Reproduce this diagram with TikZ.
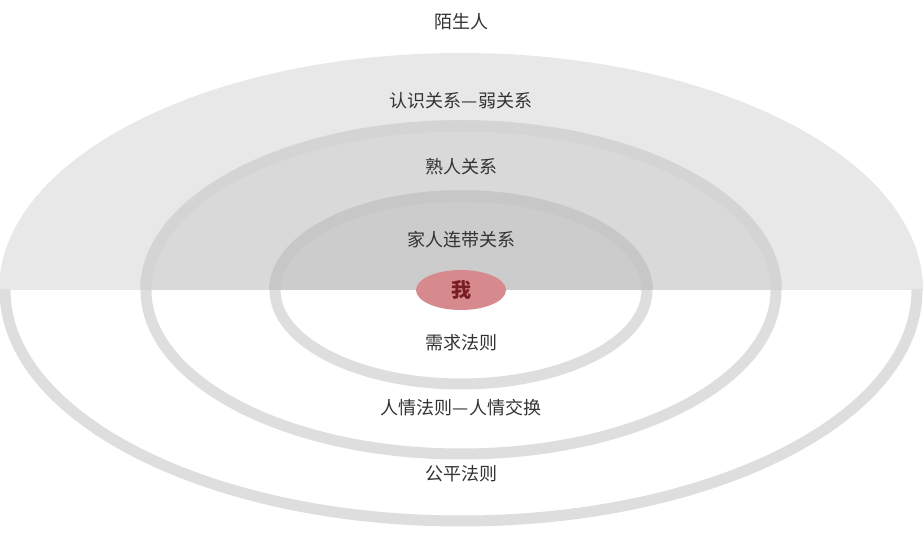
\documentclass[tikz,border=0pt]{standalone}
\usetikzlibrary{shapes.geometric}
\usepackage{fontspec}
\setmainfont{Noto Sans CJK SC}
\begin{document}
\begin{tikzpicture}[x=1pt,y=-1pt,
  lbl/.style={font=\fontsize{18}{20}\selectfont,text=black!80},
  ring/.style={draw=black!13,line width=11pt}]
\useasboundingbox (0,0) rectangle (924,534);
\fill[white] (0,0) rectangle (924,534);
\begin{scope}
\clip (0,0) rectangle (924,290);
\fill[black!9] (461,290) ellipse [x radius=462,y radius=237];
\fill[black!15] (461,290) ellipse [x radius=321,y radius=170];
\fill[black!20] (461,290) ellipse [x radius=192,y radius=100];
\end{scope}
\begin{scope}
\clip (0,290) rectangle (924,534);
\draw[ring] (461,290) ellipse [x radius=456,y radius=231];
\draw[ring] (461,290) ellipse [x radius=315,y radius=164];
\draw[ring] (461,290) ellipse [x radius=186,y radius=94];
\end{scope}
\begin{scope}
\clip (0,0) rectangle (924,290);
\draw[draw=black!17,line width=11pt] (461,290) ellipse [x radius=315,y radius=164];
\draw[draw=black!22,line width=11pt] (461,290) ellipse [x radius=186,y radius=94];
\end{scope}
\node[ellipse,fill={rgb,255:red,214;green,138;blue,142},minimum width=90pt,minimum height=40pt,inner sep=0pt] (me) at (461,290) {};
\node[font=\fontsize{20}{22}\selectfont\bfseries,text={rgb,255:red,120;green,30;blue,35}] (wo) at (461,290) {我};
\node[lbl] (a) at (461,22) {陌生人};
\node[lbl] (b) at (461,101) {认识关系—弱关系};
\node[lbl] (c) at (461,167) {熟人关系};
\node[lbl] (d) at (461,240) {家人连带关系};
\node[lbl] (e) at (461,343) {需求法则};
\node[lbl] (f) at (461,408) {人情法则—人情交换};
\node[lbl] (g) at (461,474) {公平法则};
\end{tikzpicture}
\end{document}
